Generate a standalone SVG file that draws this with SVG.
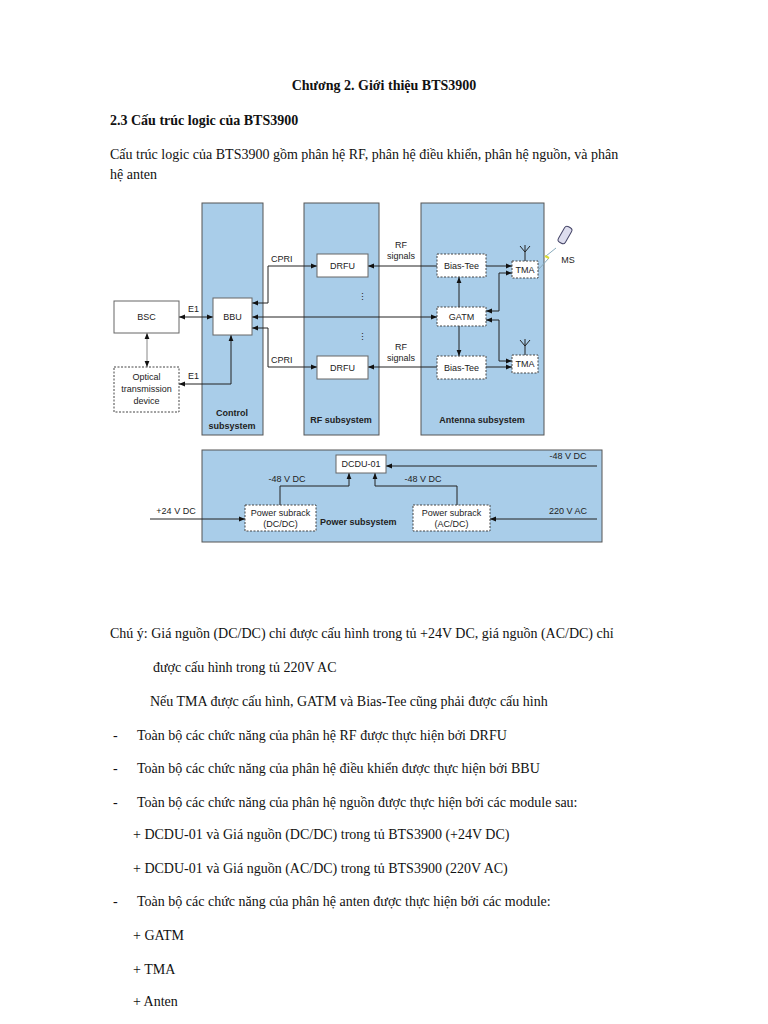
<svg xmlns="http://www.w3.org/2000/svg" width="768" height="1024" viewBox="0 0 768 1024">
<style>
.t{font-family:"Liberation Serif",serif;font-size:14px;fill:#111}
.d{font-family:"Liberation Sans",sans-serif;font-size:9px;fill:#222}
.b{font-weight:bold}
.col{fill:#a9cde9;stroke:#555;stroke-width:1}
.box{fill:#fff;stroke:#666;stroke-width:1}
.dash{fill:#fff;stroke:#444;stroke-width:1;stroke-dasharray:2,1.5}
.ln{fill:none;stroke:#222;stroke-width:1}
</style>
<defs>
<marker id="a" viewBox="0 0 10 10" refX="10" refY="5" markerWidth="6" markerHeight="6" orient="auto-start-reverse"><path d="M0,1L10,5L0,9z" fill="#111"/></marker>
</defs>
<rect width="768" height="1024" fill="#fff"/>
<text class="t b" x="384" y="90" text-anchor="middle" font-size="16">Chương 2. Giới thiệu BTS3900</text>
<text class="t b" x="110" y="125" font-size="15">2.3 Cấu trúc logic của BTS3900</text>
<text class="t" x="110" y="159">Cấu trúc logic của BTS3900 gồm phân hệ RF, phân hệ điều khiển, phân hệ nguồn, và phân</text>
<text class="t" x="110" y="179">hệ anten</text>

<g id="columns">
<rect class="col" x="202" y="203" width="61" height="232"/>
<rect class="col" x="304" y="203" width="75" height="232"/>
<rect class="col" x="421" y="203" width="123" height="232"/>
<rect class="col" x="202" y="450" width="400" height="92"/>
<text class="d b" x="232" y="416" text-anchor="middle">Control</text>
<text class="d b" x="232" y="429" text-anchor="middle">subsystem</text>
<text class="d b" x="341" y="423" text-anchor="middle">RF subsystem</text>
<text class="d b" x="482" y="423" text-anchor="middle">Antenna subsystem</text>
<text class="d b" x="320" y="525">Power subsystem</text>
</g>

<g id="connectors">
<line class="ln" x1="179" y1="317" x2="213" y2="317" marker-start="url(#a)" marker-end="url(#a)"/>
<line x1="147" y1="333" x2="147" y2="367" stroke="#888" marker-start="url(#a)" marker-end="url(#a)"/>
<polyline class="ln" points="231,335 231,384 179,384" marker-start="url(#a)" marker-end="url(#a)"/>
<polyline class="ln" points="252,303 268,303 268,266 317,266" marker-start="url(#a)" marker-end="url(#a)"/>
<polyline class="ln" points="252,328 268,328 268,367 317,367" marker-start="url(#a)" marker-end="url(#a)"/>
<line class="ln" x1="252" y1="317" x2="437" y2="317" marker-start="url(#a)" marker-end="url(#a)"/>
<line class="ln" x1="437" y1="266" x2="368" y2="266" marker-end="url(#a)"/>
<line class="ln" x1="437" y1="367" x2="368" y2="367" marker-end="url(#a)"/>
<line class="ln" x1="486" y1="266" x2="512" y2="266" marker-end="url(#a)"/>
<line class="ln" x1="486" y1="367" x2="512" y2="367" marker-end="url(#a)"/>
<line class="ln" x1="459" y1="307" x2="459" y2="277" marker-end="url(#a)"/>
<line class="ln" x1="459" y1="326" x2="459" y2="356" marker-end="url(#a)"/>
<polyline class="ln" points="486,311 499,311 499,273 512,273" marker-start="url(#a)" marker-end="url(#a)"/>
<polyline class="ln" points="486,320 499,320 499,361 512,361" marker-start="url(#a)" marker-end="url(#a)"/>
<line class="ln" x1="597" y1="466" x2="386" y2="466" marker-end="url(#a)"/>
<polyline class="ln" points="280,505 280,486 349,486 349,473" marker-end="url(#a)"/>
<polyline class="ln" points="457,505 457,486 375,486 375,473" marker-end="url(#a)"/>
<line class="ln" x1="150" y1="519" x2="245" y2="519" marker-end="url(#a)"/>
<line class="ln" x1="597" y1="519" x2="490" y2="519" marker-end="url(#a)"/>
<text class="d" x="271" y="262">CPRI</text>
<text class="d" x="271" y="363">CPRI</text>
<text class="d" x="188" y="312">E1</text>
<text class="d" x="188" y="379">E1</text>
<text class="d" x="401" y="248" text-anchor="middle">RF</text>
<text class="d" x="401" y="259" text-anchor="middle">signals</text>
<text class="d" x="401" y="350" text-anchor="middle">RF</text>
<text class="d" x="401" y="361" text-anchor="middle">signals</text>
<text class="d" x="362" y="300" text-anchor="middle">⋮</text>
<text class="d" x="362" y="340" text-anchor="middle">⋮</text>
<text class="d" x="287" y="482" text-anchor="middle">-48 V DC</text>
<text class="d" x="423" y="482" text-anchor="middle">-48 V DC</text>
<text class="d" x="568" y="459" text-anchor="middle">-48 V DC</text>
<text class="d" x="176" y="514" text-anchor="middle">+24 V DC</text>
<text class="d" x="568" y="514" text-anchor="middle">220 V AC</text>
<text class="d" x="568" y="263" text-anchor="middle">MS</text>
</g>

<g id="BSC"><rect class="box" x="114" y="301" width="65" height="32"/><text class="d" x="146.5" y="320" text-anchor="middle">BSC</text></g>
<g id="Optical"><rect class="dash" x="114" y="367" width="65" height="45"/><text class="d" x="146.5" y="380" text-anchor="middle">Optical</text><text class="d" x="146.5" y="392" text-anchor="middle">transmission</text><text class="d" x="146.5" y="404" text-anchor="middle">device</text></g>
<g id="BBU"><rect class="box" x="213" y="298" width="39" height="37"/><text class="d" x="232.5" y="320" text-anchor="middle">BBU</text></g>
<g id="DRFU1"><rect class="box" x="317" y="254" width="51" height="23"/><text class="d" x="342.5" y="269" text-anchor="middle">DRFU</text></g>
<g id="DRFU2"><rect class="box" x="317" y="356" width="51" height="23"/><text class="d" x="342.5" y="371" text-anchor="middle">DRFU</text></g>
<g id="BiasTee1"><rect class="dash" x="437" y="254" width="49" height="23"/><text class="d" x="461.5" y="269" text-anchor="middle">Bias-Tee</text></g>
<g id="BiasTee2"><rect class="dash" x="437" y="356" width="49" height="23"/><text class="d" x="461.5" y="371" text-anchor="middle">Bias-Tee</text></g>
<g id="GATM"><rect class="dash" x="437" y="307" width="49" height="19"/><text class="d" x="461.5" y="320" text-anchor="middle">GATM</text></g>
<g id="TMA1"><rect class="dash" x="512" y="261" width="26" height="17"/><text class="d" x="525" y="273" text-anchor="middle">TMA</text>
<path class="ln" d="M525,261V245M520,246L525,252L530,246"/></g>
<g id="TMA2"><rect class="dash" x="512" y="355" width="26" height="18"/><text class="d" x="525" y="367" text-anchor="middle">TMA</text>
<path class="ln" d="M525,355V339M520,340L525,346L530,340"/></g>
<g id="MS"><path d="M538,270L549,258L546,256L556,248" fill="none" stroke="#8ab" stroke-width="1"/><path d="M549,258L545,256" stroke="#dd3" stroke-width="2"/>
<rect x="561" y="226" width="8" height="18" rx="3" transform="rotate(30 565 235)" fill="#dde" stroke="#446"/></g>
<g id="DCDU"><rect class="box" x="336" y="455" width="50" height="18"/><text class="d" x="361" y="467" text-anchor="middle">DCDU-01</text></g>
<g id="PSDC"><rect class="dash" x="245" y="505" width="71" height="26"/><text class="d" x="280.5" y="516" text-anchor="middle">Power subrack</text><text class="d" x="280.5" y="527" text-anchor="middle">(DC/DC)</text></g>
<g id="PSAC"><rect class="dash" x="413" y="505" width="77" height="26"/><text class="d" x="451.5" y="516" text-anchor="middle">Power subrack</text><text class="d" x="451.5" y="527" text-anchor="middle">(AC/DC)</text></g>

<text class="t" x="110" y="638">Chú ý: Giá nguồn (DC/DC) chỉ được cấu hình trong tủ +24V DC, giá nguồn (AC/DC) chỉ</text>
<text class="t" x="153" y="672">được cấu hình trong tủ 220V AC</text>
<text class="t" x="150" y="706">Nếu TMA được cấu hình, GATM và Bias-Tee cũng phải được cấu hình</text>
<text class="t" x="113" y="740">-</text><text class="t" x="137" y="740">Toàn bộ các chức năng của phân hệ RF được thực hiện bởi DRFU</text>
<text class="t" x="113" y="773">-</text><text class="t" x="137" y="773">Toàn bộ các chức năng của phân hệ điều khiển được thực hiện bởi BBU</text>
<text class="t" x="113" y="807">-</text><text class="t" x="137" y="807">Toàn bộ các chức năng của phân hệ nguồn được thực hiện bởi các module sau:</text>
<text class="t" x="133" y="839">+ DCDU-01 và Giá nguồn (DC/DC) trong tủ BTS3900 (+24V DC)</text>
<text class="t" x="133" y="873">+ DCDU-01 và Giá nguồn (AC/DC) trong tủ BTS3900 (220V AC)</text>
<text class="t" x="113" y="906">-</text><text class="t" x="137" y="906">Toàn bộ các chức năng của phân hệ anten được thực hiện bởi các module:</text>
<text class="t" x="133" y="940">+ GATM</text>
<text class="t" x="133" y="974">+ TMA</text>
<text class="t" x="133" y="1006">+ Anten</text>
</svg>
